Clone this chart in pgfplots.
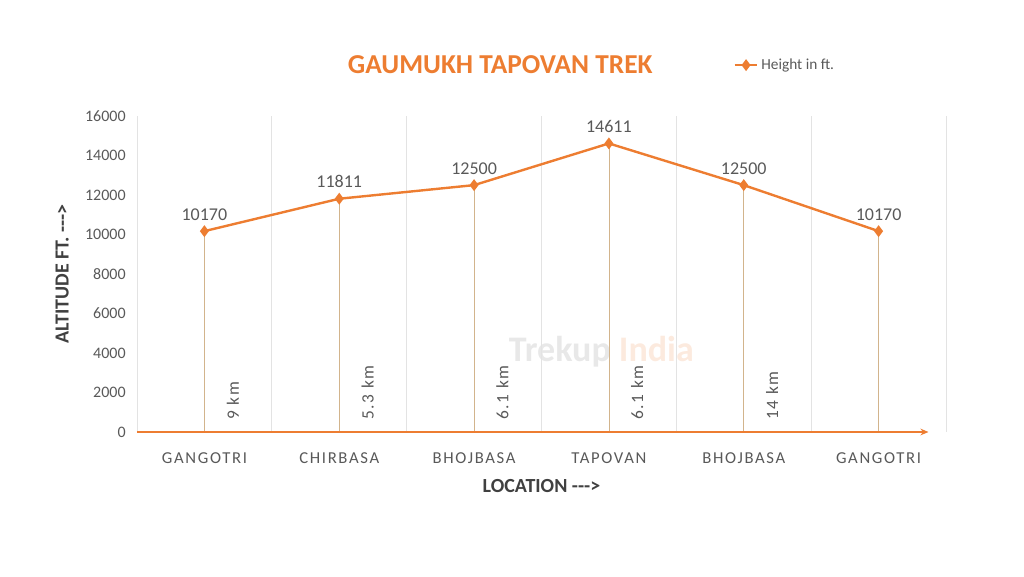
\documentclass[border=0pt]{standalone}
\usepackage{pgfplots}
\pgfplotsset{compat=1.18}
\usepackage{fontspec}
\setmainfont{Carlito}
\newfontfamily\spaced{Carlito}[LetterSpace=10]
\usetikzlibrary{arrows.meta}

\definecolor{trekorange}{HTML}{ED7D31}
\definecolor{droptan}{HTML}{D2B48C}
\definecolor{txtgray}{HTML}{595959}
\definecolor{lblgray}{HTML}{404040}
\definecolor{gridgray}{HTML}{E3E3E3}

\begin{document}
\begin{tikzpicture}[x=1pt,y=1pt]
\path[use as bounding box] (0,0) rectangle (768,432);
% watermark
\node[text=gray!18, font=\bfseries\fontsize{27}{27}\selectfont] at (451,168) {Trekup \textcolor{trekorange!16}{India}};
\begin{axis}[
    at={(102.75pt,108pt)}, anchor=south west,
    scale only axis,
    width=606.75pt, height=237pt,
    xmin=-0.5, xmax=5.5,
    ymin=0, ymax=16000,
    clip=false,
    axis line style={draw=none},
    xtick={0,...,5},
    xticklabels={GANGOTRI,CHIRBASA,BHOJBASA,TAPOVAN,BHOJBASA,GANGOTRI},
    xticklabel style={font=\spaced\fontsize{12.5}{12.5}\selectfont, text=txtgray, yshift=-12pt},
    minor xtick={-0.5,0.5,...,5.5},
    xminorgrids,
    minor grid style={gridgray, line width=0.6pt},
    major tick length=0pt, minor tick length=0pt,
    ytick={0,2000,...,16000},
    scaled y ticks=false,
    yticklabel style={font=\fontsize{12}{12}\selectfont, text=txtgray, xshift=-5pt},
    /pgf/number format/assume math mode=true,
    /pgf/number format/set thousands separator={},
    ylabel={\textbf{ALTITUDE FT. -{}-{}->}},
    ylabel style={font=\fontsize{15}{15}\selectfont, text=lblgray, at={(axis description cs:-0.0923,0.5)}, anchor=center},
    xlabel={\textbf{LOCATION -{}-{}->}},
    xlabel style={font=\fontsize{15}{15}\selectfont, text=lblgray, at={(axis description cs:0.5,-0.171)}, anchor=center},
    legend style={at={(rel axis cs:0.737,1.161)}, anchor=west, draw=none, fill=none,
        font=\fontsize{11.5}{11.5}\selectfont, text=txtgray, inner sep=0pt},
    legend cell align=left,
    nodes near coords style={font=\fontsize{13.5}{13.5}\selectfont, text=txtgray},
]
% drop lines
\addplot[ycomb, droptan, line width=0.6pt, forget plot] coordinates {
    (0,10170)(1,11811)(2,12500)(3,14611)(4,12500)(5,10170)
};
% x axis arrow
\addplot[trekorange, line width=1.6pt, -{Stealth[length=6pt,width=5pt]}, forget plot] coordinates {
    (-0.5,0)(5.37,0)
};
% main series
\addplot[trekorange, line width=1.8pt, mark=diamond*, mark size=3pt,
    nodes near coords, nodes near coords align={above}, every node near coord/.append style={yshift=4pt}]
    coordinates {
    (0,10170)(1,11811)(2,12500)(3,14611)(4,12500)(5,10170)
};
\addlegendentry{Height in ft.}
% distances
\foreach \xx/\dd in {0/9 km,1/5.3 km,2/6.1 km,3/6.1 km,4/14 km} {
    \edef\tmp{\noexpand\node[rotate=90, anchor=west, font=\noexpand\spaced\noexpand\fontsize{13}{13}\noexpand\selectfont, text=txtgray, inner sep=0pt] at (axis cs:\xx+0.21,600) {\dd};}
    \tmp
}
\node[font=\bfseries\fontsize{20.5}{20.5}\selectfont, text=trekorange] at (rel axis cs:0.449,1.161) {GAUMUKH TAPOVAN TREK};
\end{axis}
\end{tikzpicture}
\end{document}
